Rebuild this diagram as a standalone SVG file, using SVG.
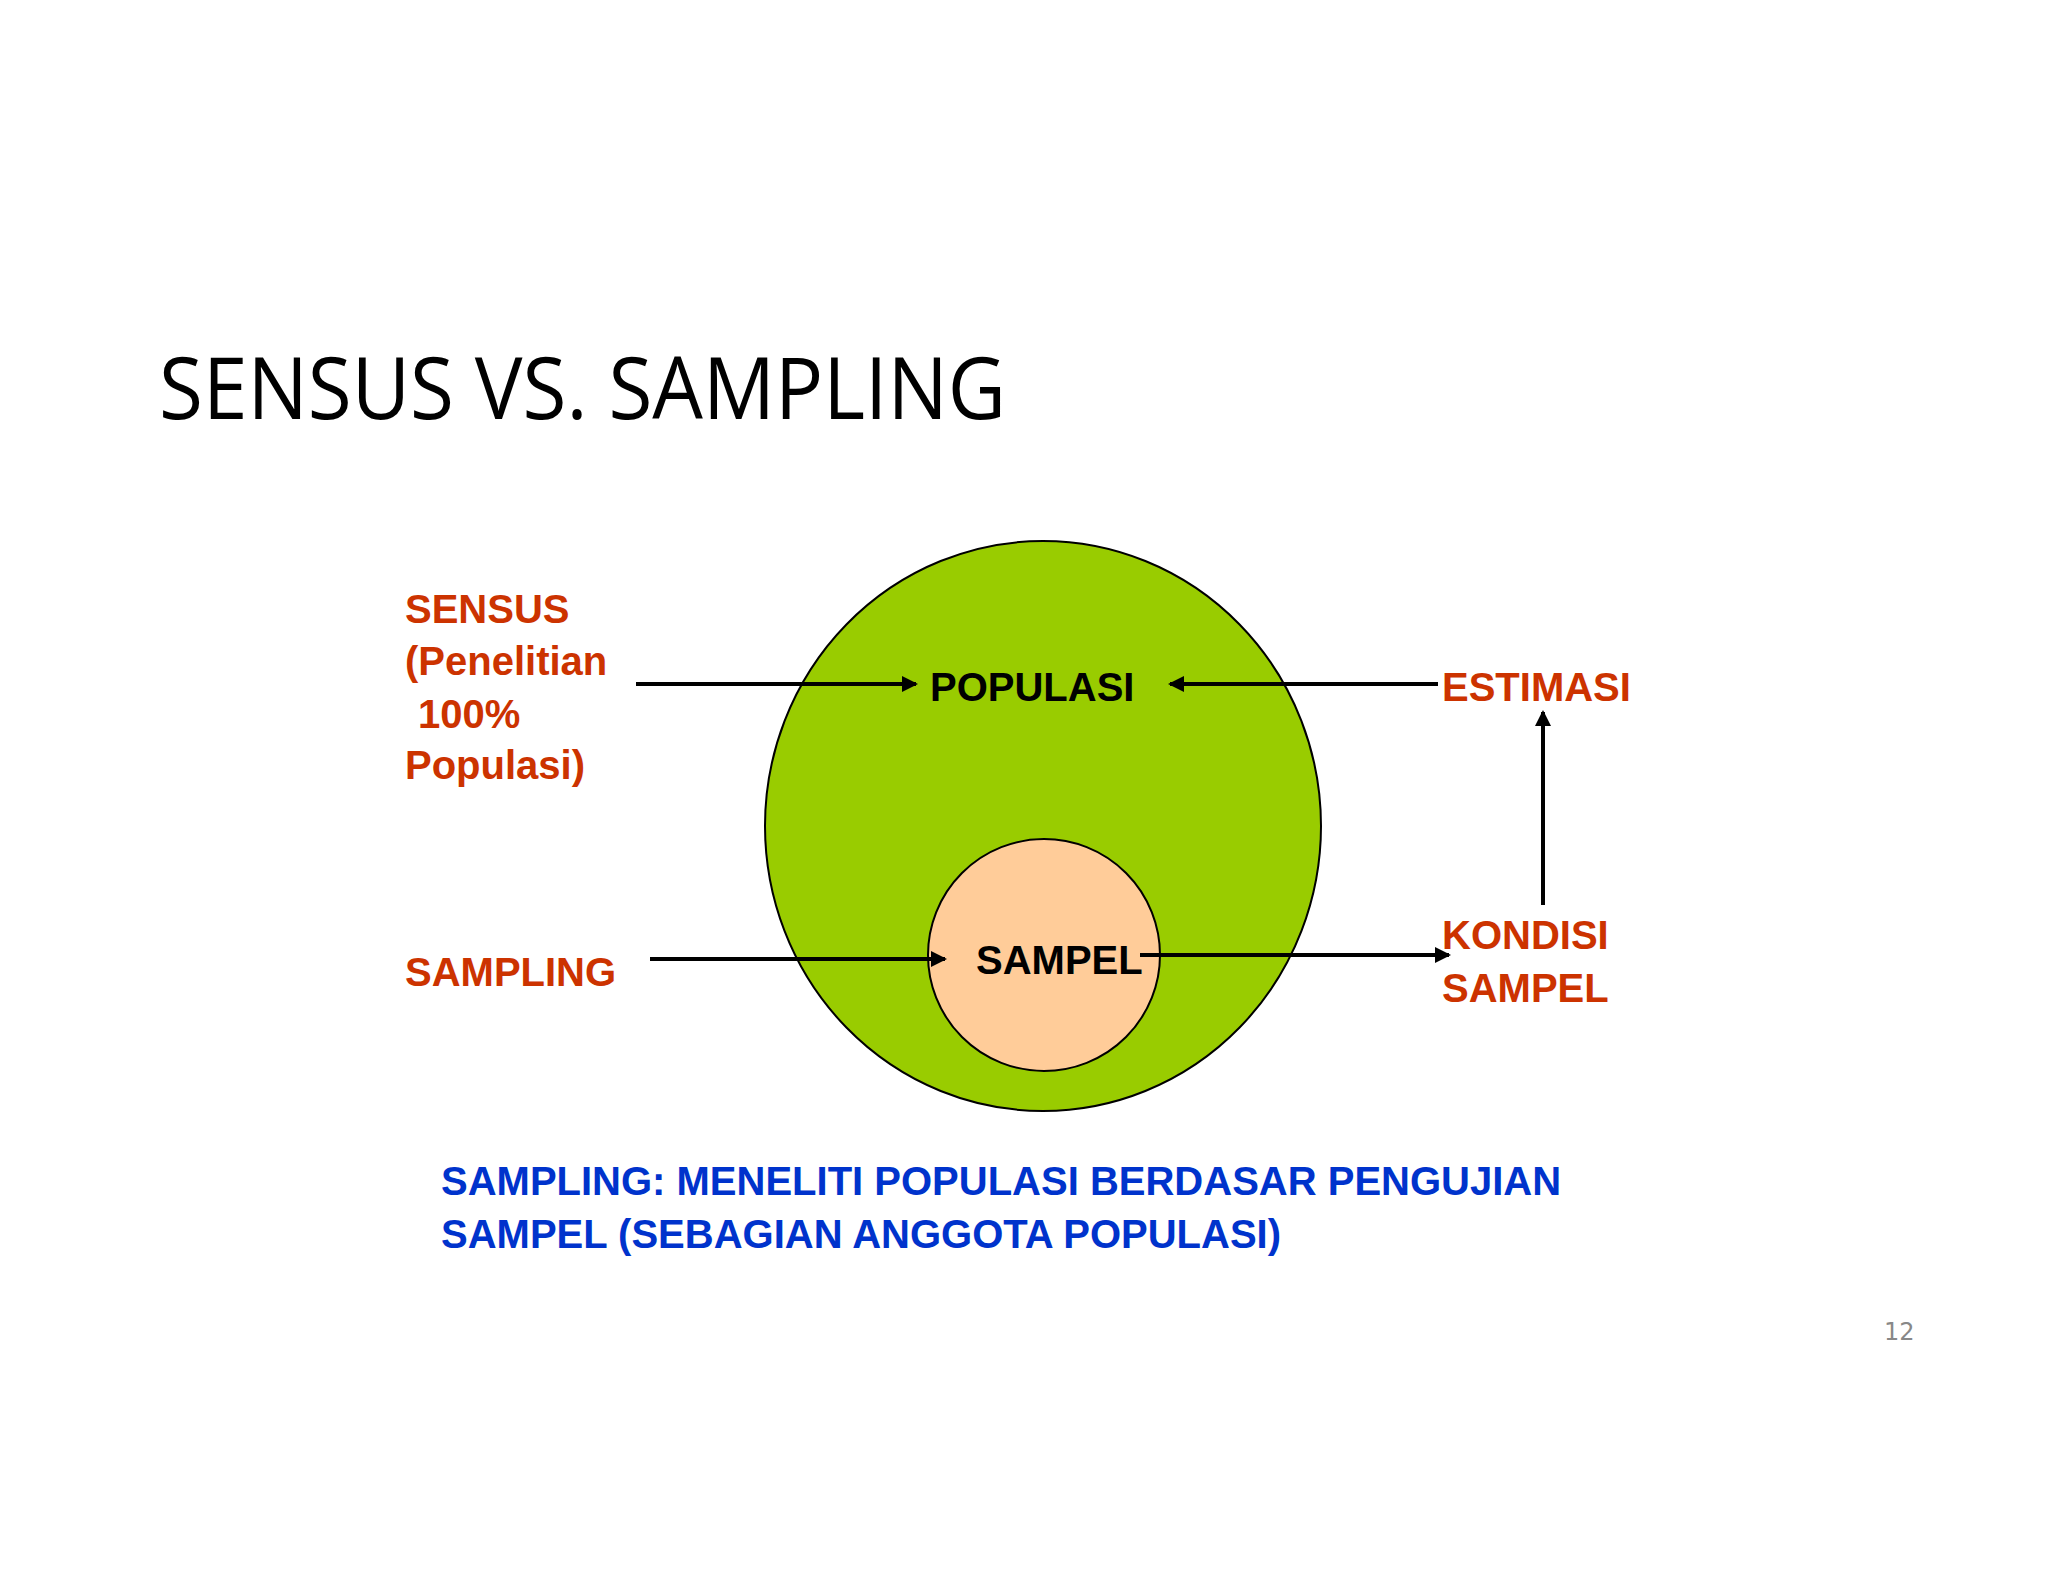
<svg xmlns="http://www.w3.org/2000/svg" width="2048" height="1582" viewBox="0 0 2048 1582">
<style>
.r{font-family:"Liberation Sans",Arial,sans-serif;font-weight:bold;font-size:40px;fill:#cc3300}
.k{font-family:"Liberation Sans",Arial,sans-serif;font-weight:bold;font-size:40px;fill:#000}
.b{font-family:"Liberation Sans",Arial,sans-serif;font-weight:bold;font-size:40px;fill:#0033cc}
.c{stroke:#000;stroke-width:4;fill:none;marker-end:url(#a)}
</style>
<defs><marker id="a" markerWidth="4" markerHeight="4" refX="3.5" refY="2" orient="auto"><path d="M0,0L4,2L0,4z" fill="#000"/></marker></defs>
<rect width="2048" height="1582" fill="#fff"/>
<text x="159" y="419" font-family="'Open Sans',sans-serif" font-size="86" textLength="847" lengthAdjust="spacingAndGlyphs">SENSUS VS. SAMPLING</text>
<g id="populasi"><ellipse cx="1043" cy="826" rx="278" ry="285" fill="#99cc00" stroke="#000" stroke-width="2"/><text class="k" x="930" y="701">POPULASI</text></g>
<g id="sampel"><circle cx="1044" cy="955" r="116" fill="#ffcc99" stroke="#000" stroke-width="2"/><text class="k" x="976" y="974">SAMPEL</text></g>
<g id="sensus"><text class="r" x="405" y="623">SENSUS</text><text class="r" x="405" y="675">(Penelitian</text><text class="r" x="418" y="728">100%</text><text class="r" x="405" y="779">Populasi)</text></g>
<g id="sampling"><text class="r" x="405" y="986">SAMPLING</text></g>
<g id="estimasi"><text class="r" x="1442" y="701">ESTIMASI</text></g>
<g id="kondisi"><text class="r" x="1442" y="949">KONDISI</text><text class="r" x="1442" y="1002">SAMPEL</text></g>
<g id="connectors">
<line class="c" x1="636" y1="684" x2="916" y2="684"/>
<line class="c" x1="1438" y1="684" x2="1170" y2="684"/>
<line class="c" x1="1543" y1="905" x2="1543" y2="712"/>
<line class="c" x1="650" y1="959" x2="945" y2="959"/>
<line class="c" x1="1140" y1="955" x2="1449" y2="955"/>
</g>
<text class="b" x="441" y="1195">SAMPLING: MENELITI POPULASI BERDASAR PENGUJIAN</text>
<text class="b" x="441" y="1248">SAMPEL (SEBAGIAN ANGGOTA POPULASI)</text>
<text x="1884" y="1340" font-family="'DejaVu Sans',sans-serif" font-size="24" fill="#888">12</text>
</svg>
